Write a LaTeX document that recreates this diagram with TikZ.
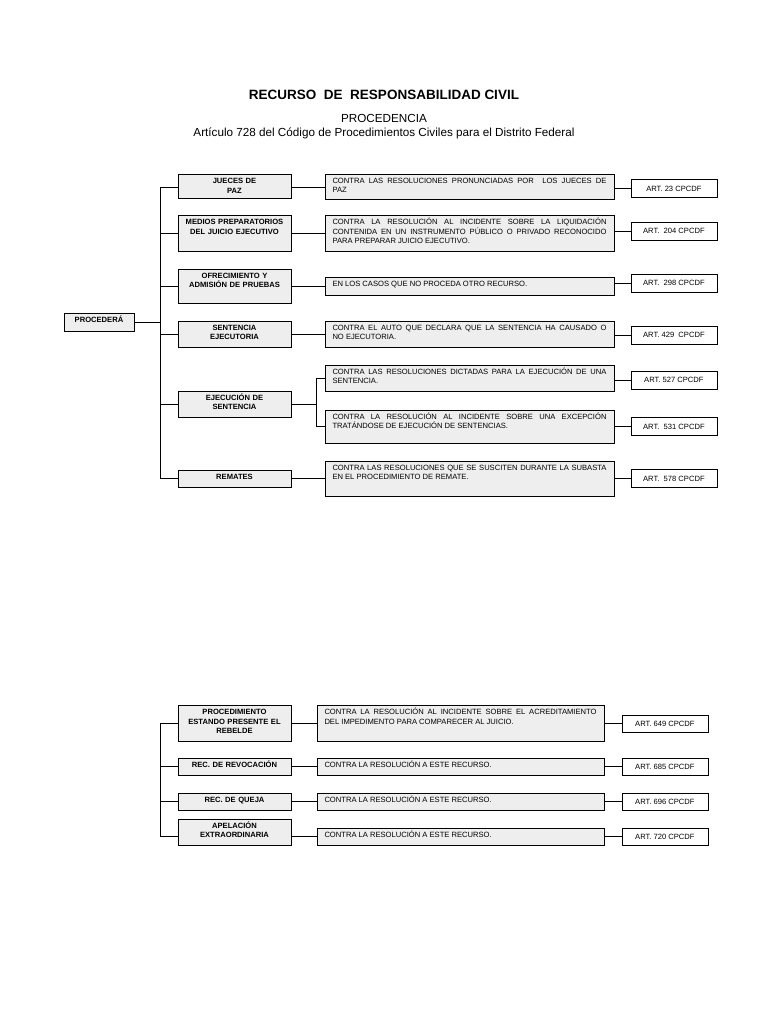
\documentclass[tikz,border=0pt]{standalone}
\usepackage{fontspec}
\setmainfont{Liberation Sans}
\usetikzlibrary{positioning}
\definecolor{boxgray}{RGB}{238,238,238}
\newcommand{\smalltxt}{\fontsize{7.6}{9.5}\selectfont}
\tikzset{%
   headbox/.style={draw, fill=boxgray, line width=1pt, text width=107pt, align=center,
      inner xsep=3pt, inner ysep=3pt, text height=6pt, font=\smalltxt\bfseries},
   textbox/.style={draw, fill=boxgray, line width=1pt, text width=274pt, align=justify,
      inner xsep=7.5pt, inner ysep=3pt, text height=6pt, font=\smalltxt},
   artbox/.style={draw, line width=0.8pt, minimum width=86pt, minimum height=18pt,
      inner sep=1pt, font=\smalltxt},
   link/.style={line width=0.8pt},
}

\begin{document}
\begin{tikzpicture}[x=1pt, y=-1pt]
      \useasboundingbox (0,0) rectangle (768,1024);
      \node[anchor=base, font=\fontsize{13.5}{16}\selectfont\bfseries] (title) at (384,99.5)
         {RECURSO\ \ DE\ \ RESPONSABILIDAD CIVIL};
      \node[anchor=base, font=\fontsize{11.7}{14}\selectfont] (sub) at (384,123) {PROCEDENCIA};
      \node[anchor=base, font=\fontsize{11.7}{14}\selectfont] (law) at (384,136.5)
         {Artículo 728 del Código de Procedimientos Civiles para el Distrito Federal};
      % upper tree
      \node[headbox, text width=64pt, text depth=6pt] (root) at (99,322) {PROCEDERÁ};
      \node[headbox, text depth=12pt] (l1) at (234.5,187) {JUECES DE\\PAZ};
      \node[headbox, text depth=23pt] (l2) at (234.5,233.5) {MEDIOS PREPARATORIOS\\DEL JUICIO EJECUTIVO};
      \node[headbox, text depth=22pt] (l3) at (234.5,286) {OFRECIMIENTO Y\\ADMISIÓN DE PRUEBAS};
      \node[headbox, text depth=14pt] (l4) at (234.5,334) {SENTENCIA\\EJECUTORIA};
      \node[headbox, text depth=14pt] (l5) at (234.5,404) {EJECUCIÓN DE\\SENTENCIA};
      \node[headbox, text depth=5pt] (l6) at (234.5,478.5) {REMATES};
      \node[textbox, text depth=13pt, right=33pt of l1] (m1)
         {CONTRA LAS RESOLUCIONES PRONUNCIADAS POR\ \ LOS JUECES DE\linebreak PAZ};
      \node[textbox, text depth=23pt, right=33pt of l2] (m2)
         {CONTRA LA RESOLUCIÓN AL INCIDENTE SOBRE LA LIQUIDACIÓN\linebreak
          CONTENIDA EN UN INSTRUMENTO PÚBLICO O PRIVADO RECONOCIDO\linebreak
          PARA PREPARAR JUICIO EJECUTIVO.};
      \node[textbox, text depth=6pt, right=33pt of l3] (m3) {EN LOS CASOS QUE NO PROCEDA OTRO RECURSO.};
      \node[textbox, text depth=14pt, right=33pt of l4] (m4)
         {CONTRA EL AUTO QUE DECLARA QUE LA SENTENCIA HA CAUSADO O\linebreak NO EJECUTORIA.};
      \node[textbox, text depth=14pt, right=33pt of l5, yshift=26pt] (m5a)
         {CONTRA LAS RESOLUCIONES DICTADAS PARA LA EJECUCIÓN DE UNA\linebreak SENTENCIA.};
      \node[textbox, text depth=21pt, right=33pt of l5, yshift=-22.5pt] (m5b)
         {CONTRA LA RESOLUCIÓN AL INCIDENTE SOBRE UNA EXCEPCIÓN\linebreak
          TRATÁNDOSE DE EJECUCIÓN DE SENTENCIAS.};
      \node[textbox, text depth=23pt, right=33pt of l6] (m6)
         {CONTRA LAS RESOLUCIONES QUE SE SUSCITEN DURANTE LA SUBASTA\linebreak
          EN EL PROCEDIMIENTO DE REMATE.};
      \node[artbox, right=16pt of m1, yshift=-1.5pt] (a1) {ART. 23 CPCDF};
      \node[artbox, right=16pt of m2, yshift=2.5pt] (a2) {ART.\ \ 204 CPCDF};
      \node[artbox, right=16pt of m3, yshift=3pt] (a3) {ART.\ \ 298 CPCDF};
      \node[artbox, right=16pt of m4, yshift=-1pt] (a4) {ART. 429\ \ CPCDF};
      \node[artbox, right=16pt of m5a, yshift=-2pt] (a5a) {ART. 527 CPCDF};
      \node[artbox, right=16pt of m5b] (a5b) {ART.\ \ 531 CPCDF};
      \node[artbox, right=16pt of m6] (a6) {ART.\ \ 578 CPCDF};
      \coordinate (trunk) at (160,322);
      \coordinate[right=25pt of l5.east] (fork);
      \draw[link] (root) -- (trunk);
      \draw[link] (trunk |- l1.west) -- (trunk |- l6.west);
      \foreach \i in {1,...,6}
         \draw[link] (trunk |- l\i.west) -- (l\i.west);
      \foreach \i in {1,2,3,4,6}
         \draw[link] (l\i.east) -- (m\i.west);
      \draw[link] (l5.east) -- (fork);
      \draw[link] (fork |- m5a.west) -- (fork |- m5b.west);
      \draw[link] (fork |- m5a.west) -- (m5a.west);
      \draw[link] (fork |- m5b.west) -- (m5b.west);
      \foreach \i in {1,2,3,4,5a,5b,6}
         \draw[link] (m\i.east |- a\i.west) -- (a\i.west);
      % lower tree
      \node[headbox, text depth=24pt] (l7) at (234.5,723.5) {PROCEDIMIENTO\\ESTANDO PRESENTE EL\\REBELDE};
      \node[headbox, text depth=5pt] (l8) at (234.5,766.5) {REC. DE REVOCACIÓN};
      \node[headbox, text depth=5pt] (l9) at (234.5,801.5) {REC. DE QUEJA};
      \node[headbox, text depth=14pt] (l10) at (234.5,832) {APELACIÓN\\EXTRAORDINARIA};
      \node[textbox, text width=272pt, text depth=24pt, right=25pt of l7] (m7)
         {CONTRA LA RESOLUCIÓN AL INCIDENTE SOBRE EL ACREDITAMIENTO\linebreak
          DEL IMPEDIMENTO PARA COMPARECER AL JUICIO.};
      \node[textbox, text width=272pt, text depth=5pt, right=25pt of l8] (m8) {CONTRA LA RESOLUCIÓN A ESTE RECURSO.};
      \node[textbox, text width=272pt, text depth=5pt, right=25pt of l9] (m9) {CONTRA LA RESOLUCIÓN A ESTE RECURSO.};
      \node[textbox, text width=272pt, text depth=5pt, right=25pt of l10, yshift=-4.5pt] (m10)
         {CONTRA LA RESOLUCIÓN A ESTE RECURSO.};
      \node[artbox, minimum height=17pt, right=17pt of m7] (a7) {ART. 649 CPCDF};
      \node[artbox, minimum height=17pt, right=17pt of m8] (a8) {ART. 685 CPCDF};
      \node[artbox, minimum height=17pt, right=17pt of m9] (a9) {ART. 696 CPCDF};
      \node[artbox, minimum height=17pt, right=17pt of m10] (a10) {ART. 720 CPCDF};
      \coordinate (trunk2) at (160,0);
      \draw[link] (trunk2 |- l7.west) -- (trunk2 |- m10.west);
      \foreach \i in {7,8,9}
         \draw[link] (trunk2 |- l\i.west) -- (l\i.west);
      \draw[link] (trunk2 |- m10.west) -- (l10.west |- m10.west);
      \foreach \i in {7,8,9}
         \draw[link] (l\i.east) -- (m\i.west);
      \draw[link] (l10.east |- m10.west) -- (m10.west);
      \foreach \i in {7,...,10}
         \draw[link] (m\i.east) -- (a\i.west);
\end{tikzpicture}
\end{document}
